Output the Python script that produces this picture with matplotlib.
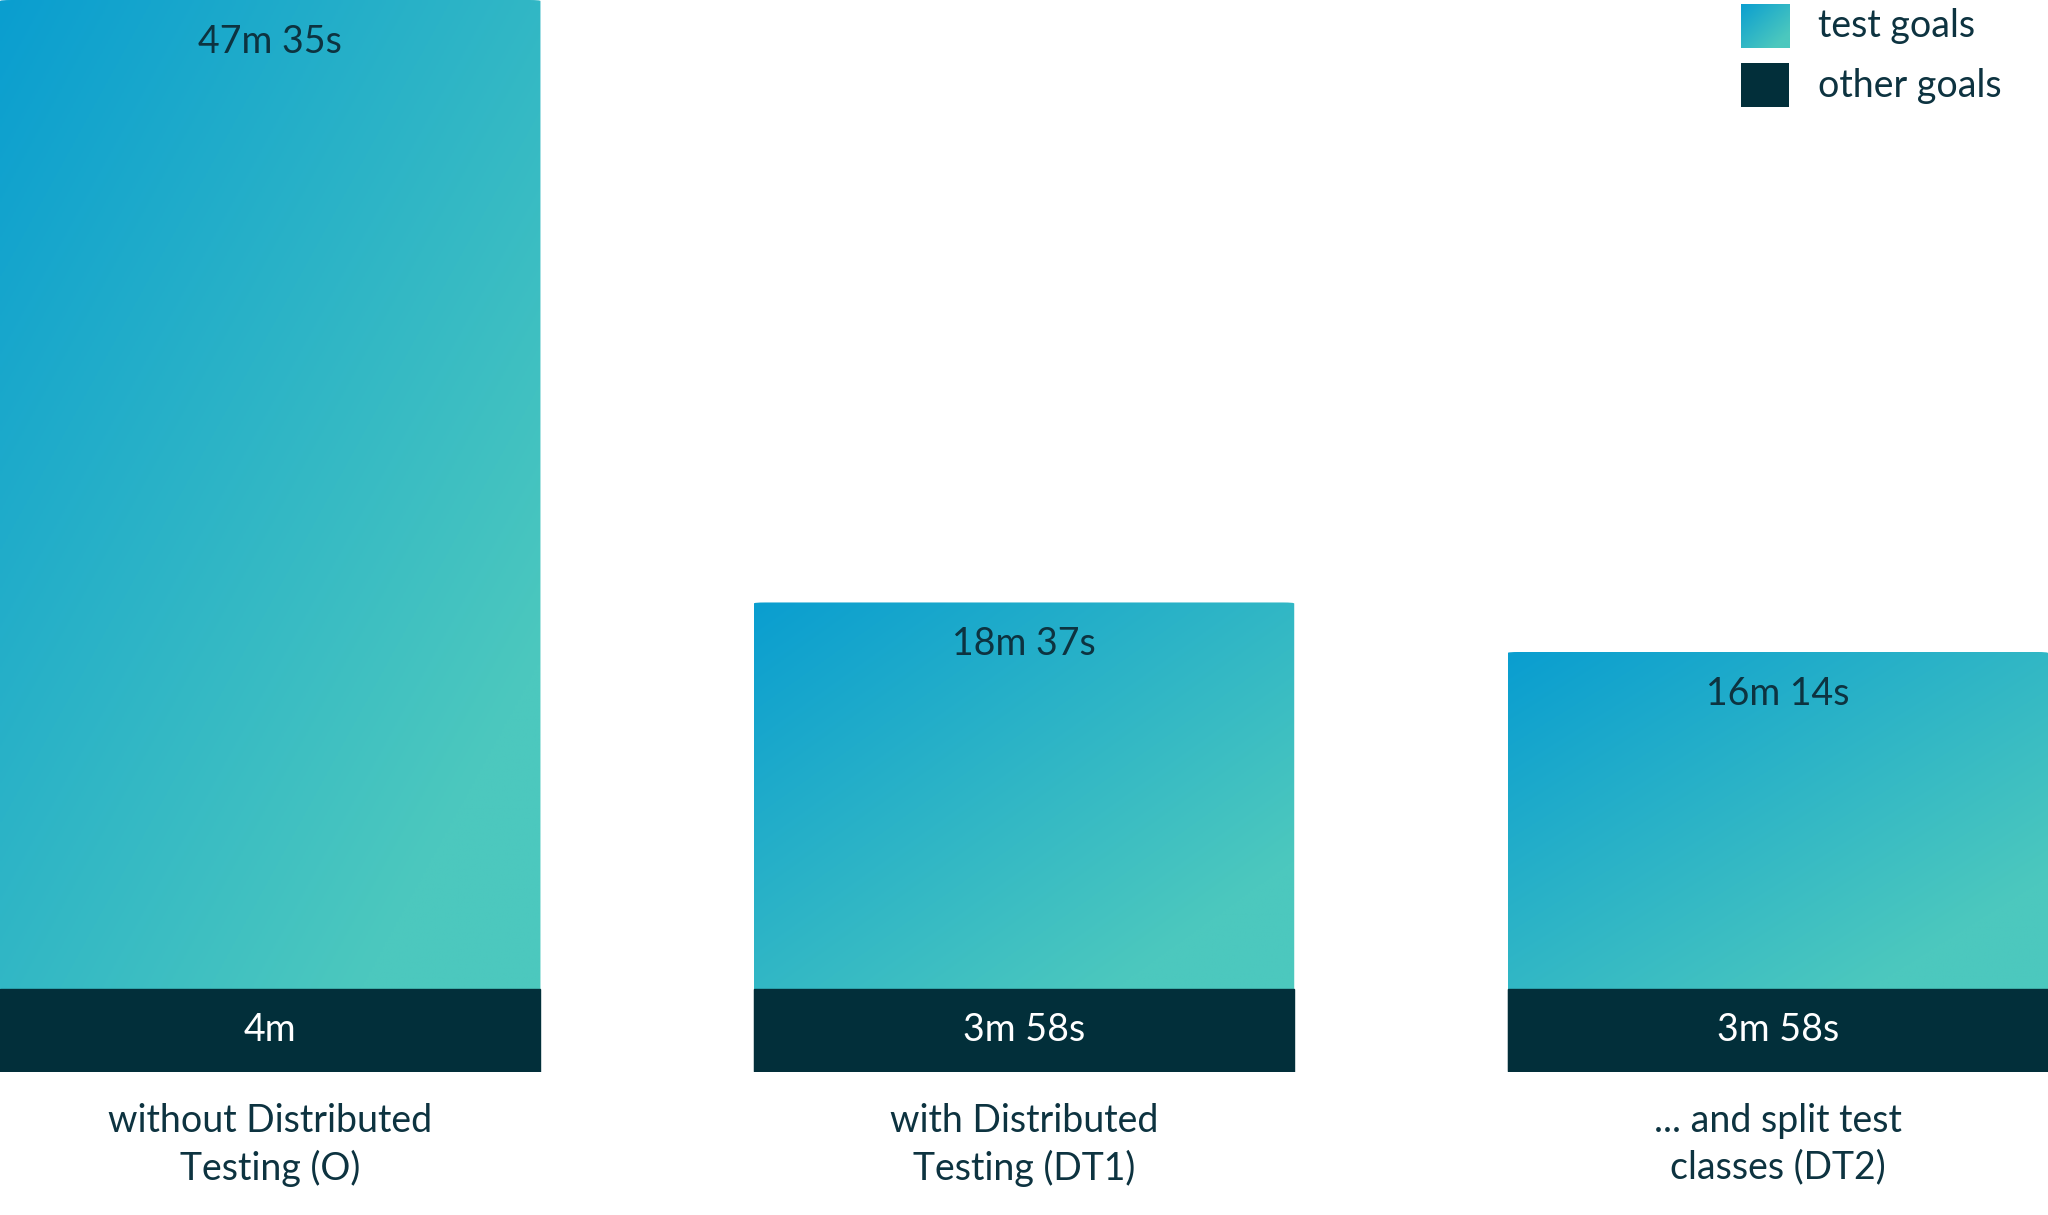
import numpy as np
import matplotlib.pyplot as plt
from matplotlib.patches import FancyBboxPatch, Rectangle

categories = ['without Distributed\nTesting (O)', 'with Distributed\nTesting (DT1)', '... and split test\nclasses (DT2)']
test_goals = [2855, 1117, 974]       # seconds
other_goals = [240, 238, 238]
test_labels = ['47m 35s', '18m 37s', '16m 14s']
other_labels = ['4m', '3m 58s', '3m 58s']

plt.rcParams['font.family'] = ['Lato', 'DejaVu Sans']
dark = '#022f3a'
c1 = np.array([0x0a, 0x9e, 0xd0]) / 255
c2 = np.array([0x4c, 0xc8, 0xbe]) / 255

def grad(n=200):
    yy, xx = np.mgrid[0:1:n*1j, 0:1:n*1j]
    t = np.clip((xx * 0.6 + yy * 0.6), 0, 1)[..., None]
    return c1 * (1 - t) + c2 * t

fig = plt.figure(figsize=(20.48, 12.15), dpi=100)
ax = fig.add_axes([0, 0.118, 1, 0.882])
w = 0.717
scale = 1.0
ax.set_xlim(-w / 2, 2 + w / 2)
ax.set_ylim(0, test_goals[0] + other_goals[0])
ax.axis('off')

for i, (t, o) in enumerate(zip(test_goals, other_goals)):
    x0 = i - w / 2
    total = t + o
    ax.add_patch(Rectangle((x0, 0), w, 240, color=dark, zorder=1))
    clip = FancyBboxPatch((x0, 0), w, total, boxstyle='round,pad=0,rounding_size=0.015',
                          mutation_aspect=200, facecolor='none', edgecolor='none')
    ax.add_patch(clip)
    im = ax.imshow(grad(), extent=[x0, x0 + w, 240, total], origin='upper',
                   aspect='auto', zorder=2)
    im.set_clip_path(clip)
    bot = Rectangle((x0, 0), w, 240, color=dark, zorder=3)
    ax.add_patch(bot)
    bot.set_clip_path(clip)
    ax.text(i, total - 120, test_labels[i], ha='center', va='center', fontsize=27, color='#0d3340', zorder=4)
    ax.text(i, 120, other_labels[i], ha='center', va='center', fontsize=27, color='white', zorder=4)
    ax.text(i, -90, categories[i], ha='center', va='top', fontsize=27, color='#0d3340',
            linespacing=1.35)

# legend
lax1 = fig.add_axes([1333 / 1568, 1 - 37 / 930, 37 / 1568, 34 / 930])
lax1.imshow(grad(), aspect='auto')
lax1.axis('off')
lax2 = fig.add_axes([1333 / 1568, 1 - 82 / 930, 37 / 1568, 34 / 930])
lax2.add_patch(Rectangle((0, 0), 1, 1, color=dark))
lax2.axis('off')
fig.text(1392 / 1568, 1 - 20 / 930, 'test goals', fontsize=27, color='#0d3340', va='center')
fig.text(1392 / 1568, 1 - 66 / 930, 'other goals', fontsize=27, color='#0d3340', va='center')

fig.savefig('out.png', dpi=100)
